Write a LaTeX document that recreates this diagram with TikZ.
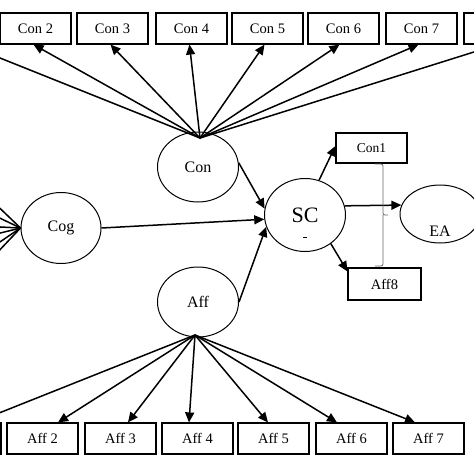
\documentclass[tikz,border=0pt]{standalone}
\usepackage{fontspec}
\setmainfont{Liberation Serif}
\usetikzlibrary{arrows.meta,shapes.geometric}
\tikzset{
  ind/.style={draw, line width=1.2pt, minimum width=71pt, minimum height=31pt, inner sep=0pt, font=\fontsize{14.5}{16}\selectfont},
  lat/.style={draw, ellipse, line width=1pt, minimum width=81pt, minimum height=70pt, inner sep=0pt, font=\fontsize{16}{18}\selectfont},
  arr/.style={line width=1.5pt, -{Triangle[length=10pt,width=9pt]}},
  brace/.style={black!60, line width=0.8pt, rounded corners=2pt}
}
\begin{document}
\begin{tikzpicture}[x=1pt,y=-1pt]
        \useasboundingbox (0,0) rectangle (474,474);
        \clip (0,0) rectangle (474,474);
        % top indicators
        \node[ind] (con2) at (35.5,28.5) {Con 2};
        \node[ind] (con3) at (112.5,28.5) {Con 3};
        \node[ind] (con4) at (191.5,28.5) {Con 4};
        \node[ind] (con5) at (267.5,28.5) {Con 5};
        \node[ind] (con6) at (343.5,28.5) {Con 6};
        \node[ind] (con7) at (421.5,28.5) {Con 7};
        \node[ind] (con8) at (499.5,28.5) {};
        \coordinate (conl) at (-35,44);
        % latent variables
        \node[lat] (con) at (198,167) {Con};
        \node[lat, minimum width=80pt, minimum height=71pt] (cog) at (61,228) {Cog};
        \node[lat, minimum height=73pt, font=\fontsize{22}{24}\selectfont] (sc) at (305,215) {SC};
        \node[lat, minimum width=80pt, minimum height=58pt] (ea) at (440,214) {};
        \node[font=\fontsize{16}{18}\selectfont] (eatext) at ([yshift=-17pt]ea.center) {EA};
        \node[lat] (aff) at (198,302) {Aff};
        \coordinate (conf) at (200,138);
        \coordinate (afff) at (195,335);
        % outcome indicators
        \node[ind, minimum height=30pt, font=\fontsize{13.5}{15}\selectfont] (con1) at (371.5,148) {Con1};
        \node[ind, minimum width=73pt, minimum height=32pt] (aff8) at (384.5,284) {Aff8};
        % bottom indicators
        \node[ind] (aff1) at (-34.5,438.5) {};
        \node[ind] (aff2) at (42.5,438.5) {Aff 2};
        \node[ind] (aff3) at (120.5,438.5) {Aff 3};
        \node[ind] (aff4) at (197.5,438.5) {Aff 4};
        \node[ind] (aff5) at (273.5,438.5) {Aff 5};
        \node[ind] (aff6) at (351.5,438.5) {Aff 6};
        \node[ind] (aff7) at (428.5,438.5) {Aff 7};
        % con loadings
        \draw[arr] (conf) -- (conl);
        \draw[arr] (conf) -- ([xshift=-2pt]con2.south);
        \draw[arr] (conf) -- ([xshift=-2pt]con3.south);
        \draw[arr] (conf) -- ([xshift=-2pt]con4.south);
        \draw[arr] (conf) -- ([xshift=-3pt]con5.south);
        \draw[arr] (conf) -- ([xshift=-4pt]con6.south);
        \draw[arr] (conf) -- ([xshift=-3pt]con7.south);
        \draw[arr] (conf) -- ([xshift=-2pt]con8.south);
        % cog loadings
        \coordinate (cg1) at (-40,170);
        \coordinate (cg2) at (-40,199);
        \coordinate (cg3) at (-40,225);
        \coordinate (cg4) at (-40,243);
        \coordinate (cg5) at (-40,269);
        \coordinate (cg6) at (-40,292);
        \draw[arr] (cog.west) -- (cg1);
        \draw[arr] (cog.west) -- (cg2);
        \draw[arr] (cog.west) -- (cg3);
        \draw[arr] (cog.west) -- (cg4);
        \draw[arr] (cog.west) -- (cg5);
        \draw[arr] (cog.west) -- (cg6);
        % aff loadings
        \draw[arr] (afff) -- ([xshift=10pt]aff1.north);
        \draw[arr] (afff) -- ([xshift=15.5pt]aff2.north);
        \draw[arr] (afff) -- ([xshift=7.5pt]aff3.north);
        \draw[arr] (afff) -- ([xshift=-8.5pt]aff4.north);
        \draw[arr] (afff) -- ([xshift=-5.5pt]aff5.north);
        \draw[arr] (afff) -- ([xshift=-14.5pt]aff6.north);
        \draw[arr] (afff) -- ([xshift=-13.5pt]aff7.north);
        % paths
        \draw[arr] (con.6) -- (sc.171);
        \draw[arr] (cog.east) -- (sc.186);
        \draw[arr] (aff.east) -- (sc.197);
        \draw[arr] (sc.68) -- ([yshift=2pt]con1.west);
        \draw[arr] (sc.13) -- (ea.167);
        \draw[arr] (sc.-48) -- ([yshift=-4pt]aff8.north west);
        % brace
        \draw[brace] (375,164) -| (383,215) -- (388,215) (383,215) |- (375,266);
        \draw[line width=0.6pt] (303,237) -- (307,237);
\end{tikzpicture}
\end{document}
